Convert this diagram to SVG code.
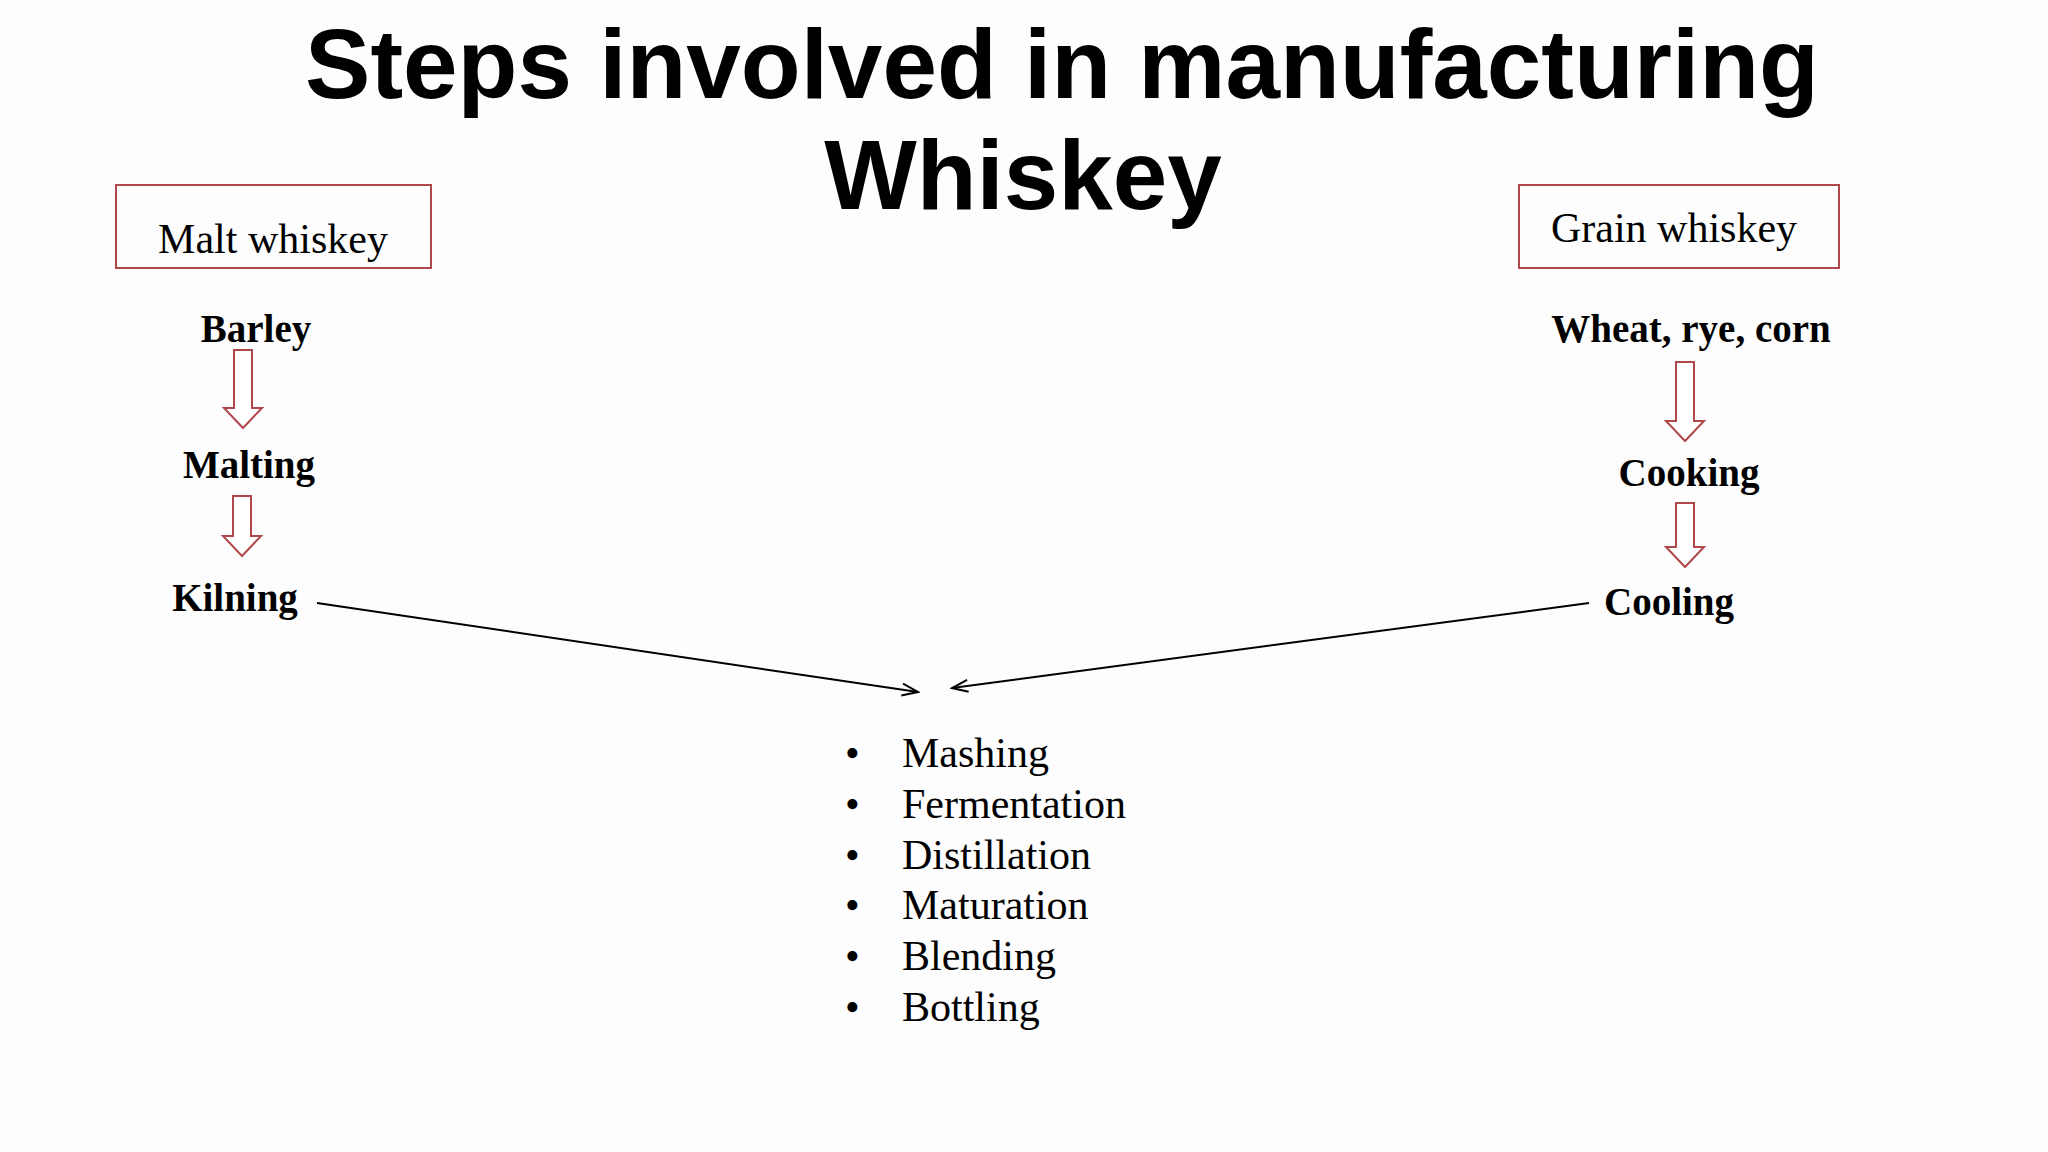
<svg xmlns="http://www.w3.org/2000/svg" width="2048" height="1152" viewBox="0 0 2048 1152">
<defs>
<style>
.t{font-family:"Liberation Sans",Arial,sans-serif;font-weight:bold;font-size:98px;fill:#000;text-anchor:middle}
.s{font-family:"Liberation Serif","Times New Roman",serif;fill:#000}
.b{font-weight:bold;font-size:39px;text-anchor:middle}
.box{fill:none;stroke:#b0474a;stroke-width:2}
.arr{fill:#fff;stroke:#b0474a;stroke-width:2}
.l{font-size:42px}
</style>
<marker id="m" markerWidth="20" markerHeight="16" refX="18" refY="8" orient="auto" markerUnits="userSpaceOnUse">
<path d="M2,2 L18,8 L2,14" fill="none" stroke="#000" stroke-width="2"/>
</marker>
</defs>
<rect width="2048" height="1152" fill="#fdfdfd"/>
<text class="t" x="1062" y="98">Steps involved in  manufacturing</text>
<text class="t" x="1023" y="209">Whiskey</text>
<g id="malt"><rect class="box" x="116" y="185" width="315" height="83"/><text class="s" x="273" y="253" font-size="42" text-anchor="middle">Malt whiskey</text></g>
<g id="grain"><rect class="box" x="1519" y="185" width="320" height="83"/><text class="s" x="1674" y="242" font-size="42" text-anchor="middle">Grain whiskey</text></g>
<g id="barley"><text class="s b" x="256" y="342">Barley</text></g>
<g id="malting"><text class="s b" x="249" y="478">Malting</text></g>
<g id="kilning"><text class="s b" x="235" y="611">Kilning</text></g>
<g id="wheat"><text class="s b" x="1691" y="342">Wheat, rye, corn</text></g>
<g id="cooking"><text class="s b" x="1689" y="486">Cooking</text></g>
<g id="cooling"><text class="s b" x="1669" y="615">Cooling</text></g>
<g id="connectors">
<polygon class="arr" points="234,350 252,350 252,408 262,408 243,428 224,408 234,408"/>
<polygon class="arr" points="233,496 251,496 251,536 261,536 242,556 223,536 233,536"/>
<polygon class="arr" points="1676,362 1694,362 1694,421 1704,421 1685,441 1666,421 1676,421"/>
<polygon class="arr" points="1676,503 1694,503 1694,547 1704,547 1685,567 1666,547 1676,547"/>
<line x1="317" y1="603" x2="918" y2="692" stroke="#000" stroke-width="2" marker-end="url(#m)"/>
<line x1="1589" y1="603" x2="952" y2="688" stroke="#000" stroke-width="2" marker-end="url(#m)"/>
</g>
<g id="steps" class="s l">
<text x="845" y="767">•</text><text x="902" y="767">Mashing</text>
<text x="845" y="818">•</text><text x="902" y="818">Fermentation</text>
<text x="845" y="869">•</text><text x="902" y="869">Distillation</text>
<text x="845" y="919">•</text><text x="902" y="919">Maturation</text>
<text x="845" y="970">•</text><text x="902" y="970">Blending</text>
<text x="845" y="1021">•</text><text x="902" y="1021">Bottling</text>
</g>
</svg>
